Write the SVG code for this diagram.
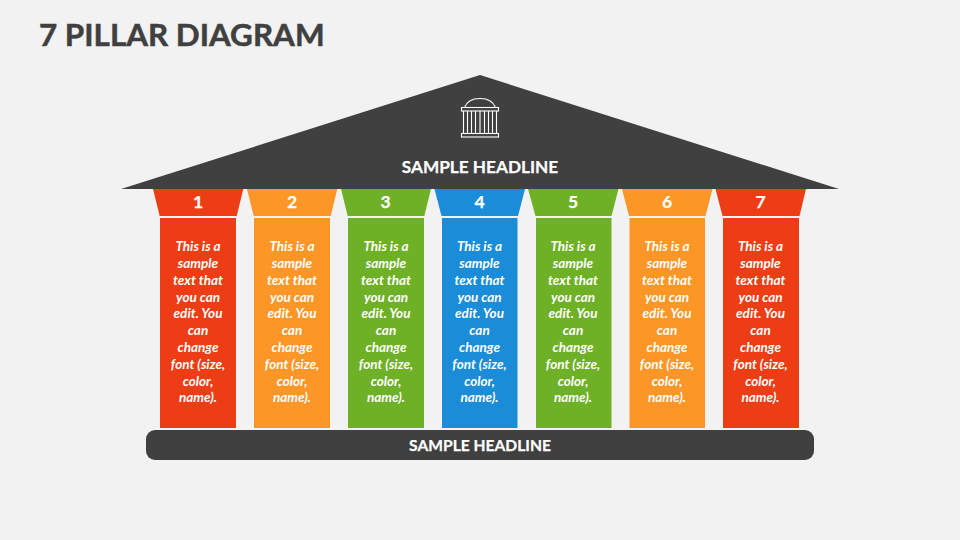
<svg xmlns="http://www.w3.org/2000/svg" width="960" height="540" viewBox="0 0 960 540">
<style>
text{font-family:Lato,"Open Sans",sans-serif;fill:#fff;text-anchor:middle}
.title{font-size:31.4px;font-weight:700;fill:#404040;stroke:#404040;stroke-width:.5;text-anchor:start}
.head{font-size:17.2px;font-weight:700;stroke:#fff;stroke-width:.25}
.head2{font-size:15.600px;font-weight:700;stroke:#fff;stroke-width:.25}
.num{font-size:17.500px;font-weight:700;stroke:#fff;stroke-width:.25}
.body{font-size:13.500px;font-weight:700;font-style:italic}
.red{fill:#ec3d14}.ora{fill:#fc9626}.grn{fill:#6eb026}.blu{fill:#1a8cd8}
.ic{fill:none;stroke:#fff;stroke-width:1.1}
</style>
<defs>
<g id="copy">
<text class="body" y="251">This is a</text>
<text class="body" y="268">sample</text>
<text class="body" y="285">text that</text>
<text class="body" y="301.500">you can</text>
<text class="body" y="318">edit. You</text>
<text class="body" y="335">can</text>
<text class="body" y="352">change</text>
<text class="body" y="369">font (size,</text>
<text class="body" y="385.500">color,</text>
<text class="body" y="402">name).</text>
</g>
</defs>
<rect width="960" height="540" fill="#f2f2f2"/>
<text class="title" x="39" y="46">7 PILLAR DIAGRAM</text>
<g id="roof">
<polygon points="480,75 121,189 839,189" fill="#404040"/>
<g class="ic">
<path d="M464.500 107.500C467 101 473 98.500 480 98.500S493 101 495.500 107.500"/>
<rect x="461.500" y="107.500" width="37" height="3.500"/>
<rect x="461.500" y="133.500" width="37" height="3.500"/>
<path d="M463.500 111V133.500M467.500 111V133.500M471.500 111V133.500M475.500 111V133.500M480 111V133.500M484.500 111V133.500M488.500 111V133.500M492.500 111V133.500M496.500 111V133.500"/>
</g>
<text class="head" x="480" y="173">SAMPLE HEADLINE</text>
</g>
<g id="pillar-1"><polygon class="red" points="153,189 243.300,189 236.700,216 159.700,216"/><rect class="red" x="160" y="218" width="76" height="210"/><text class="num" x="198" y="207.500">1</text><use href="#copy" x="198"/></g>
<g id="pillar-2"><polygon class="ora" points="247,189 337.300,189 330.700,216 253.700,216"/><rect class="ora" x="254" y="218" width="76" height="210"/><text class="num" x="292" y="207.500">2</text><use href="#copy" x="292"/></g>
<g id="pillar-3"><polygon class="grn" points="341,189 431,189 424.300,216 347.700,216"/><rect class="grn" x="348" y="218" width="76" height="210"/><text class="num" x="385.500" y="207.500">3</text><use href="#copy" x="386"/></g>
<g id="pillar-4"><polygon class="blu" points="434.500,189 525,189 518,216 441.500,216"/><rect class="blu" x="442" y="218" width="75.500" height="210"/><text class="num" x="479.500" y="207.500">4</text><use href="#copy" x="479.500"/></g>
<g id="pillar-5"><polygon class="grn" points="528,189 618.500,189 611.500,216 535.500,216"/><rect class="grn" x="536" y="218" width="75.500" height="210"/><text class="num" x="573" y="207.500">5</text><use href="#copy" x="573"/></g>
<g id="pillar-6"><polygon class="ora" points="622,189 712.500,189 705.500,216 629,216"/><rect class="ora" x="629.500" y="218" width="75.500" height="210"/><text class="num" x="667" y="207.500">6</text><use href="#copy" x="667"/></g>
<g id="pillar-7"><polygon class="red" points="715.500,189 806,189 799.500,216 722.500,216"/><rect class="red" x="723" y="218" width="76" height="210"/><text class="num" x="760.500" y="207.500">7</text><use href="#copy" x="760.500"/></g>
<g id="base">
<rect x="146" y="430" width="668" height="30" rx="9" fill="#404040"/>
<text class="head2" x="480" y="450.500">SAMPLE HEADLINE</text>
</g>
<g id="connectors"/>
</svg>
